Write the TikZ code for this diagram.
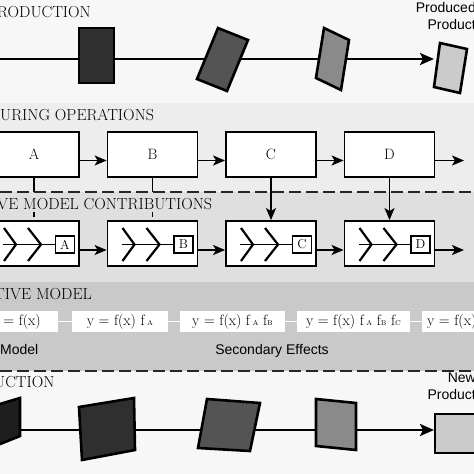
\documentclass[tikz,border=0pt]{standalone}
\usepackage{fontspec}
\setsansfont{Liberation Sans}
\usetikzlibrary{arrows.meta}

\definecolor{bgpale}{HTML}{F7F7F7}
\definecolor{bgops}{HTML}{EDEDED}
\definecolor{bgcontrib}{HTML}{DFDFDF}
\definecolor{bgmodel}{HTML}{C9C9C9}
\definecolor{toneA}{HTML}{1E1E1E}
\definecolor{toneB}{HTML}{2F2F2F}
\definecolor{toneC}{HTML}{545454}
\definecolor{toneD}{HTML}{8A8A8A}
\definecolor{toneE}{HTML}{CBCBCB}

\newcommand{\sm}[1]{{\fontsize{7}{8}\selectfont #1}}

\tikzset{
  heading/.style={anchor=base west, inner sep=0pt, font=\fontsize{16}{18}\selectfont},
  note/.style={inner sep=0pt, font=\sffamily\fontsize{14}{16.5}\selectfont},
  opbox/.style={draw, line width=1.8pt, fill=white, minimum width=90pt, minimum height=45pt, font=\fontsize{15}{17}\selectfont},
  tagbox/.style={draw, line width=1.3pt, fill=white, minimum width=19pt, minimum height=17pt, inner sep=0pt, font=\fontsize{13}{14}\selectfont},
  formula/.style={fill=white, minimum height=21pt, inner ysep=0pt, font=\fontsize{15}{17}\selectfont},
  flow/.style={line width=1.8pt, -{Stealth[length=12pt,width=10pt,inset=3pt]}},
  piece/.style={draw, line width=2.6pt, line join=miter},
  divider/.style={line width=2pt, color=black!85, dash pattern=on 12pt off 5pt},
}

\begin{document}
\begin{tikzpicture}[x=1pt, y=-1pt]
    \useasboundingbox (0,0) rectangle (474,474);
    \clip (0,0) rectangle (474,474);

    % bands
    \fill[bgpale] (0,0) rectangle (474,103);
    \fill[bgops] (0,103) rectangle (474,192);
    \fill[bgcontrib] (0,192) rectangle (474,282);
    \fill[bgmodel] (0,282) rectangle (474,371);
    \fill[bgpale] (0,371) rectangle (474,474);

    % current production
    \node[heading] (titleTop) at (-3,17) {RODUCTION};
    \node[note, anchor=north east, align=right] (made) at (476,2.5) {Produced\\Product};
    \coordinate (topIn) at (0,59);
    \coordinate (topOut) at (434,59);
    \draw[flow, line width=2.5pt, -{Stealth[length=14pt,width=12pt,inset=3pt]}] (topIn) -- (topOut);
    \draw[piece, fill=toneB] (79,28) rectangle (114,83);
    \draw[piece, fill=toneC] (218,28) -- (248,40) -- (227,91) -- (197,79) -- cycle;
    \draw[piece, fill=toneD] (324,28) -- (349,40) -- (341,90) -- (316,78) -- cycle;
    \draw[piece, fill=toneE] (440,43) -- (467,49) -- (460,93) -- (434,87) -- cycle;

    % operations and contributions
    \node[heading] (titleOps) at (0,120) {URING OPERATIONS};
    \node[heading] (titleContrib) at (-3,209) {VE MODEL CONTRIBUTIONS};
    \foreach \n/\x in {A/34,B/152.5,C/271,D/389.5} {
        \node[opbox] (op\n) at (\x,154.5) {\n};
        \node[opbox] (cb\n) at (\x,243.5) {};
        \node[tagbox] (tag\n) at (\x+31,244.5) {\n};
        \draw[line width=1.6pt] (\x-31,244.5) -- (tag\n.west);
        \draw[line width=2.2pt, line join=miter] (\x-30,228) -- (\x-18,244.5) -- (\x-30,261);
        \draw[line width=2.2pt, line join=miter] (\x-6,228) -- (\x+7,244.5) -- (\x-6,261);
    }
    \foreach \a/\b in {A/B,B/C,C/D} {
        \draw[flow] ([yshift=-6pt]op\a.east) -- ([yshift=-6pt]op\b.west);
        \draw[flow] ([yshift=-6.5pt]cb\a.east) -- ([yshift=-6.5pt]cb\b.west);
    }
    \coordinate (opOut) at (464,160.5);
    \coordinate (cbOut) at (464,250);
    \draw[flow] ([yshift=-6pt]opD.east) -- (opOut);
    \draw[flow] ([yshift=-6.5pt]cbD.east) -- (cbOut);

    \coordinate (divL) at (0,192);
    \coordinate (divR) at (474,192);
    \draw[divider] (divL) -- (divR);
    \draw[line width=1.8pt] (opA.south) -- (opA.south |- divL);
    \draw[line width=1.8pt] (opB.south) -- (opB.south |- divL);
    \draw[line width=1.5pt] ([yshift=8pt]cbA.north) -- ([yshift=3pt]cbA.north);
    \draw[line width=1.5pt] ([yshift=8pt]cbB.north) -- ([yshift=3pt]cbB.north);
    \draw[flow] (opC) -- (cbC);
    \draw[flow] (opD) -- (cbD);

    % predictive model
    \node[heading] (titleModel) at (-6,299) {TIVE MODEL};
    \node[formula, anchor=east, inner xsep=17pt] (f1) at (58,321.5) {= f(x)};
    \node[formula, minimum width=96pt] (f2) at (120,321.5) {y = f(x) f\,\sm{A}};
    \node[formula, minimum width=105pt] (f3) at (232.5,321.5) {y = f(x) f\,\sm{A} f\sm{B}};
    \node[formula, minimum width=113pt] (f4) at (353.5,321.5) {y = f(x) f\,\sm{A} f\sm{B} f\sm{C}};
    \node[formula, anchor=west, inner xsep=5pt] (f5) at (422,321.5) {y = f(x)};
    \foreach \a/\b in {f1/f2,f2/f3,f3/f4,f4/f5}
        \draw[white, line width=1.5pt] (\a) -- (\b);
    \node[note, anchor=base west] (base) at (0,354) {Model};
    \node[note, anchor=base] (second) at (272,354) {Secondary Effects};

    \coordinate (divL2) at (0,371);
    \coordinate (divR2) at (474,371);
    \draw[divider] (divL2) -- (divR2);

    % new production
    \node[heading] (titleNew) at (-6,387) {UCTION};
    \node[note, anchor=north east, align=right] (newprod) at (476,373) {New\\Product};
    \coordinate (botIn) at (0,430);
    \coordinate (botOut) at (434,430);
    \draw[flow, line width=2.5pt, -{Stealth[length=14pt,width=12pt,inset=3pt]}] (botIn) -- (botOut);
    \draw[piece, fill=toneA] (-20,410) -- (20,398) -- (20,436) -- (-20,452) -- cycle;
    \draw[piece, fill=toneB] (79,407) -- (134,398) -- (135,450) -- (82,460) -- cycle;
    \draw[piece, fill=toneC] (207,399) -- (260,403) -- (250,451) -- (198,448) -- cycle;
    \draw[piece, fill=toneD] (316,399) -- (356,403) -- (356,450) -- (316,446) -- cycle;
    \draw[piece, fill=toneE] (435,414) rectangle (490,453);
\end{tikzpicture}
\end{document}
